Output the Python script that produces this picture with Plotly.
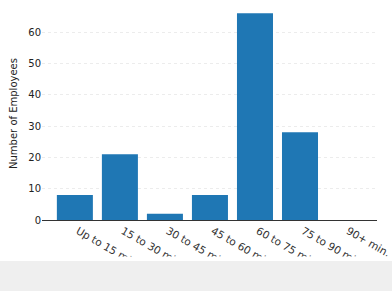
import plotly.graph_objects as go

categories = ["Up to 15 min", "15 to 30 min", "30 to 45 min", "45 to 60 min",
              "60 to 75 min", "75 to 90 min", "90+ min."]
employees = [8, 21, 2, 8, 66, 28, 0]
y_ticks = [0, 10, 20, 30, 40, 50, 60]

W, H = 392, 291
L, R, T, B = 42, 15, 7, 71
ph = H - T - B

def py(px):
    return (H - B - px) / ph

fig = go.Figure(go.Bar(x=list(range(len(categories))), y=employees,
                       marker=dict(color="#1f77b4", line=dict(width=0)), width=0.8))

fig.update_layout(
    width=W, height=H, margin=dict(l=L, r=R, t=T, b=B, autoexpand=False),
    paper_bgcolor="white", plot_bgcolor="white",
    font=dict(family="DejaVu Sans", size=10, color="#222"),
    showlegend=False,
    xaxis=dict(tickmode="array", tickvals=list(range(len(categories))), ticktext=categories,
               range=[-0.73, 6.71], tickangle=30, showgrid=False, showline=True,
               linecolor="#333", linewidth=1, ticks="", zeroline=False, automargin=False,
               ticklabelshift=3, ticklabeloverflow="allow",
               tickfont=dict(size=10.5, color="#333")),
    yaxis=dict(range=[0, 68], tickvals=y_ticks, showgrid=True, gridcolor="#ececec",
               griddash="dot", gridwidth=0.8, zeroline=False, showline=False, ticks="",
               automargin=False,
               title=dict(text="Number of Employees", font=dict(size=10), standoff=8),
               tickfont=dict(size=10)),
    shapes=[
        dict(type="rect", xref="paper", yref="paper", x0=-1, x1=2,
             y0=py(261), y1=py(256.5), fillcolor="white", line=dict(width=0), layer="above"),
        dict(type="rect", xref="paper", yref="paper", x0=-1, x1=2,
             y0=py(291), y1=py(261), fillcolor="#efefef", line=dict(width=0), layer="above"),
    ],
)
fig.write_html("out.html")
